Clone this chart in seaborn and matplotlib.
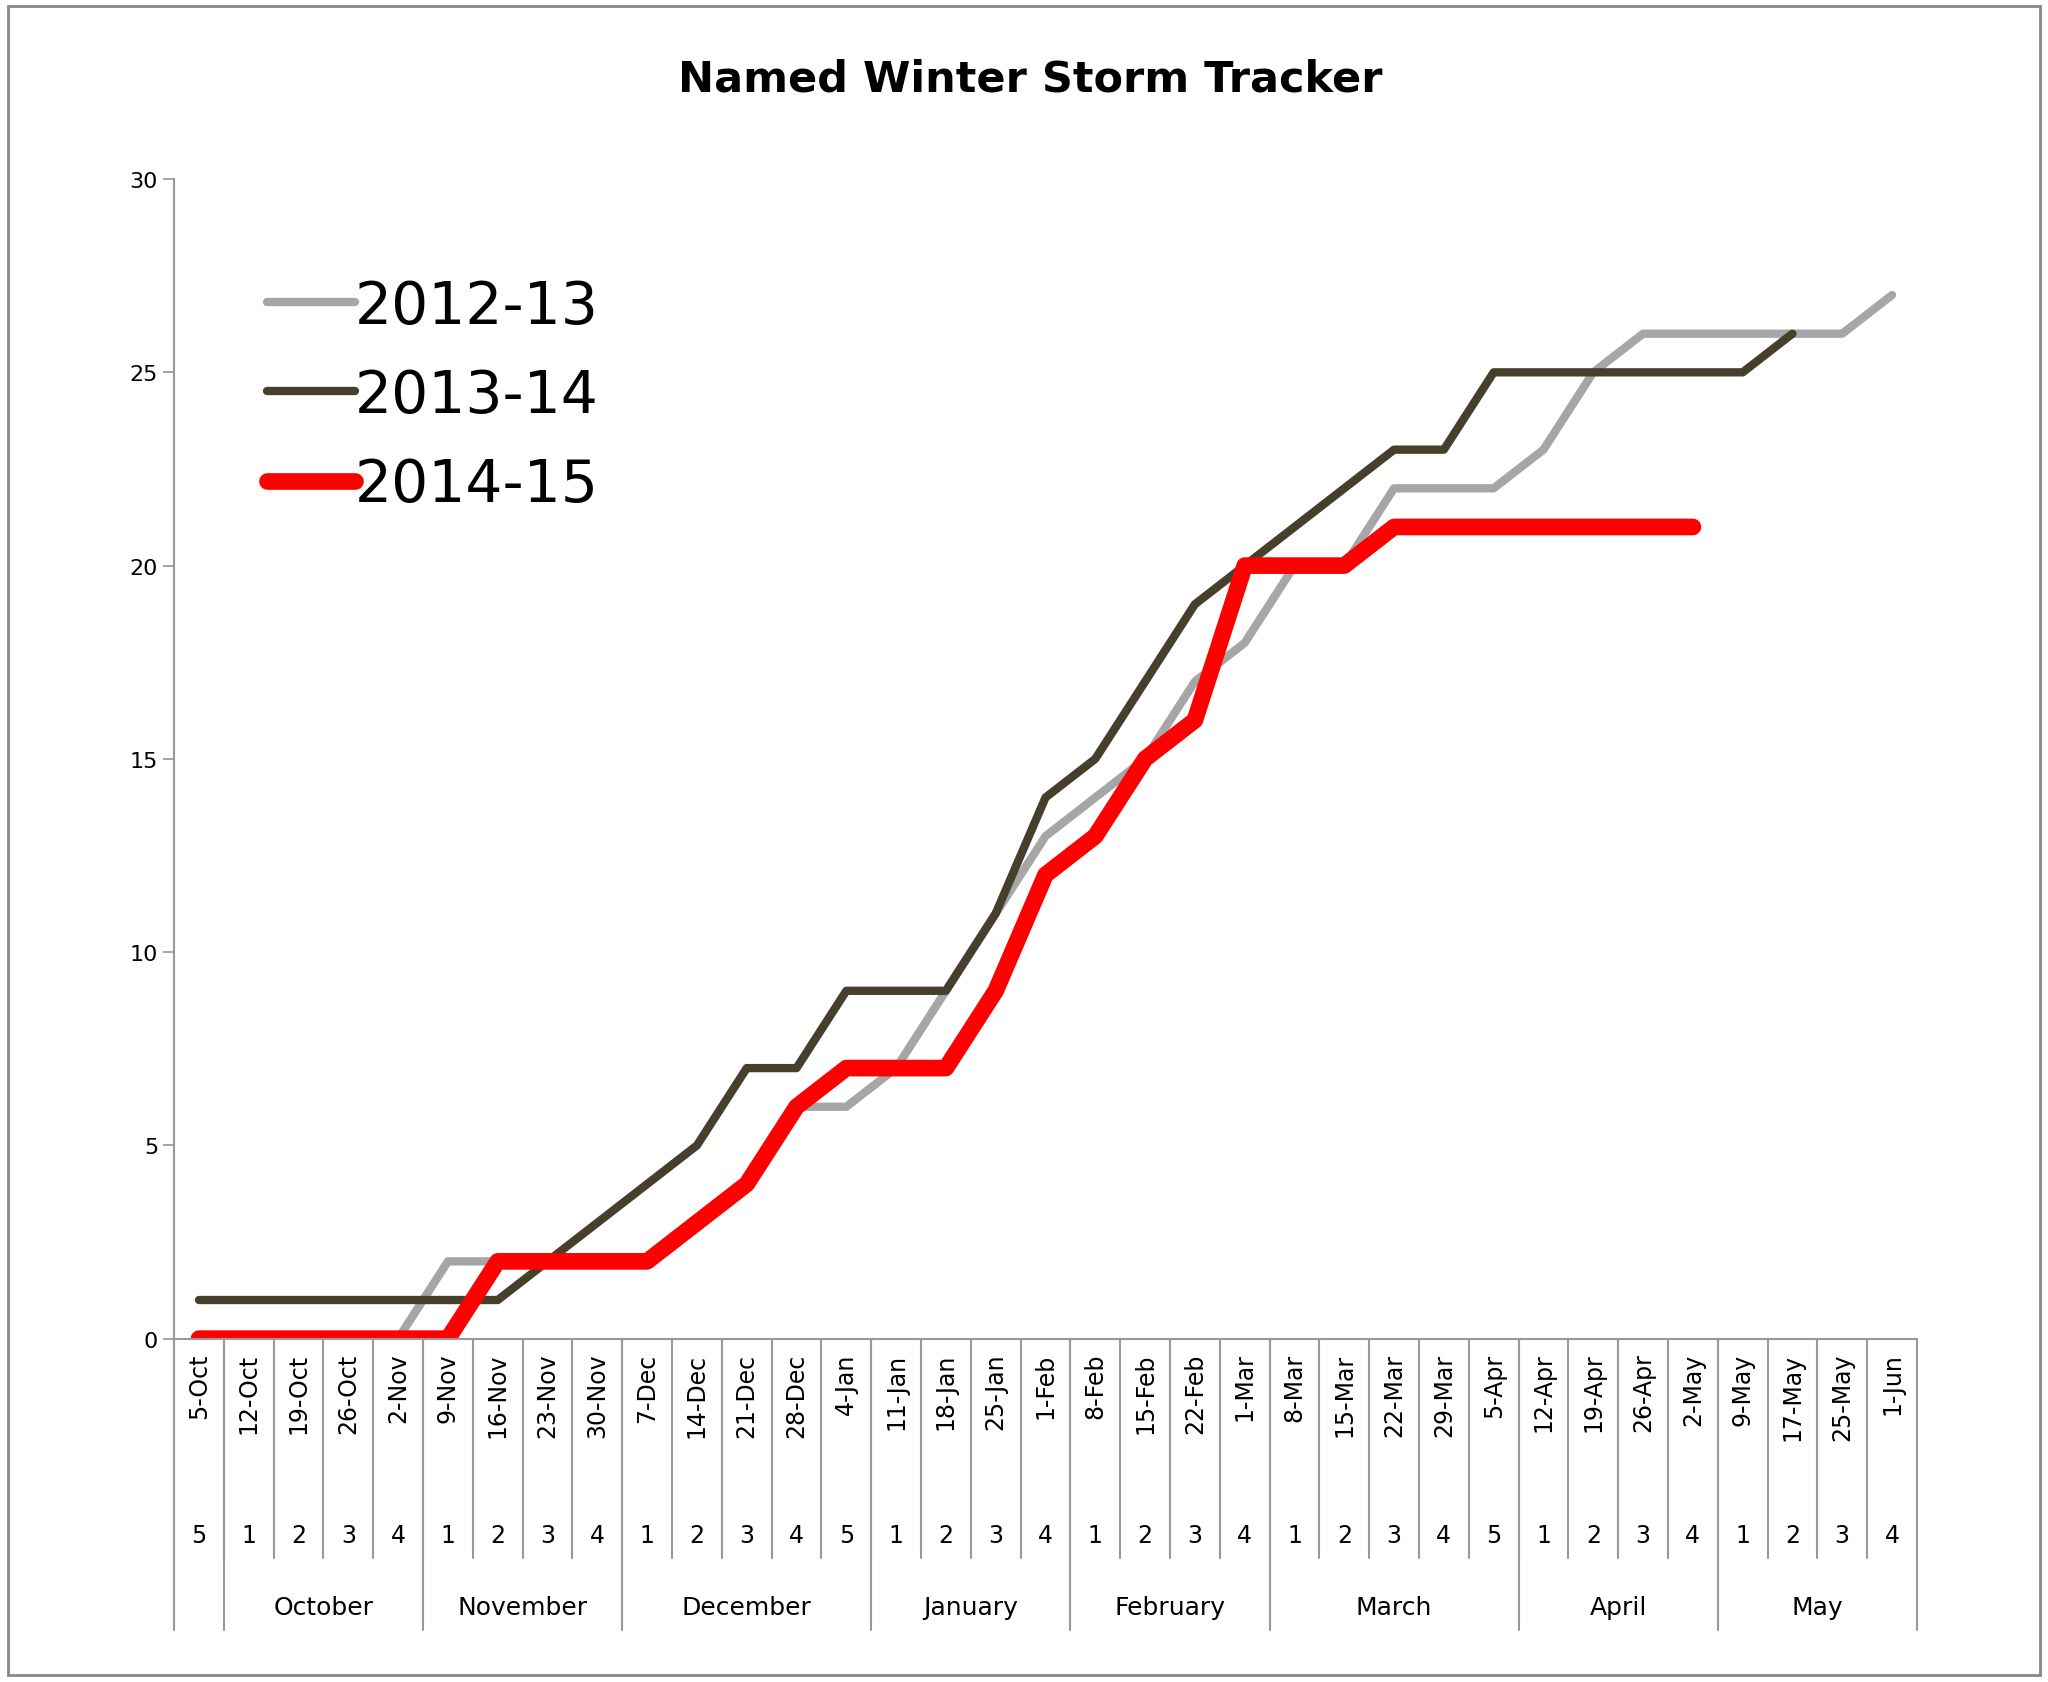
import matplotlib
matplotlib.use("Agg")
import matplotlib.pyplot as plt
import seaborn as sns
import pandas as pd
import numpy as np
from matplotlib.patches import Rectangle

dates = ["5-Oct","12-Oct","19-Oct","26-Oct","2-Nov","9-Nov","16-Nov","23-Nov","30-Nov","7-Dec","14-Dec","21-Dec","28-Dec","4-Jan","11-Jan","18-Jan","25-Jan","1-Feb","8-Feb","15-Feb","22-Feb","1-Mar","8-Mar","15-Mar","22-Mar","29-Mar","5-Apr","12-Apr","19-Apr","26-Apr","2-May","9-May","17-May","25-May","1-Jun"]
weeks = [5,1,2,3,4,1,2,3,4,1,2,3,4,5,1,2,3,4,1,2,3,4,1,2,3,4,5,1,2,3,4,1,2,3,4]
months = ["October","November","December","January","February","March","April","May"]
month_lengths = [4,4,5,4,4,5,4,4]

s2012 = [0,0,0,0,0,2,2,2,2,2,3,4,6,6,7,9,11,13,14,15,17,18,20,20,22,22,22,23,25,26,26,26,26,26,27]
s2013 = [1,1,1,1,1,1,1,2,3,4,5,7,7,9,9,9,11,14,15,17,19,20,21,22,23,23,25,25,25,25,25,25,26]
s2014 = [0,0,0,0,0,0,2,2,2,2,3,4,6,7,7,7,9,12,13,15,16,20,20,20,21,21,21,21,21,21,21]

sns.set_theme(style="white")
plt.rcParams['font.family'] = ['DejaVu Sans']
plt.rcParams['text.color'] = 'black'
fig = plt.figure(figsize=(20.48, 16.83), dpi=100)
ax = fig.add_axes([0.085, 0.204, 0.851, 0.689])

series = [("2012-13", s2012, "#a6a6a6", 6.0), ("2013-14", s2013, "#453f2c", 6.0), ("2014-15", s2014, "#ff0000", 12.0)]
for name, vals, col, lw in series:
    df = pd.DataFrame({"x": np.arange(len(vals)), "y": vals})
    sns.lineplot(data=df, x="x", y="y", ax=ax, color=col, linewidth=lw, label=name,
                 solid_capstyle="round", solid_joinstyle="round")

ax.set_xlim(-0.5, len(dates) - 0.5)
ax.set_ylim(0, 30)
ax.set_yticks(range(0, 31, 5))
ax.tick_params(axis="y", labelsize=16, length=8, direction="out", left=True, colors="#999999", labelcolor="black")
ax.set_xticks([])
ax.set_xlabel(""); ax.set_ylabel("")
for sp in ["top", "right"]:
    ax.spines[sp].set_visible(False)
for sp in ["left", "bottom"]:
    ax.spines[sp].set_color("#999999")
    ax.spines[sp].set_linewidth(1.5)

tr = ax.get_xaxis_transform()
lc = "#999999"
for i, (d, w) in enumerate(zip(dates, weeks)):
    ax.text(i, -0.012, d, rotation=90, ha="center", va="top", fontsize=17, transform=tr, clip_on=False)
    ax.text(i, -0.169, str(w), ha="center", va="center", fontsize=17, transform=tr, clip_on=False)
for b in np.arange(-0.5, len(dates)):
    ax.plot([b, b], [0, -0.189], transform=tr, color=lc, lw=1.5, clip_on=False)
start = 0.5
ax.plot([-0.5, -0.5], [0, -0.251], transform=tr, color=lc, lw=1.5, clip_on=False)
ax.plot([start, start], [0, -0.251], transform=tr, color=lc, lw=1.5, clip_on=False)
for m, n in zip(months, month_lengths):
    end = start + n
    ax.text((start + end) / 2, -0.231, m, ha="center", va="center", fontsize=18, transform=tr, clip_on=False)
    ax.plot([end, end], [0, -0.251], transform=tr, color=lc, lw=1.5, clip_on=False)
    start = end

leg = ax.legend(loc="upper left", bbox_to_anchor=(0.04, 0.935), fontsize=42, frameon=False,
                handlelength=1.5, handletextpad=0.0, labelspacing=0.55, borderaxespad=0)
for t in leg.get_texts():
    t.set_color("black")

fig.text(0.503, 0.953, "Named Winter Storm Tracker", ha="center", va="center", fontsize=31,
         fontweight="bold", color="black")
fig.patches.append(Rectangle((0.004, 0.004), 0.992, 0.992, transform=fig.transFigure,
                             fill=False, edgecolor="#888888", linewidth=2))
fig.savefig("out.png", dpi=100)
